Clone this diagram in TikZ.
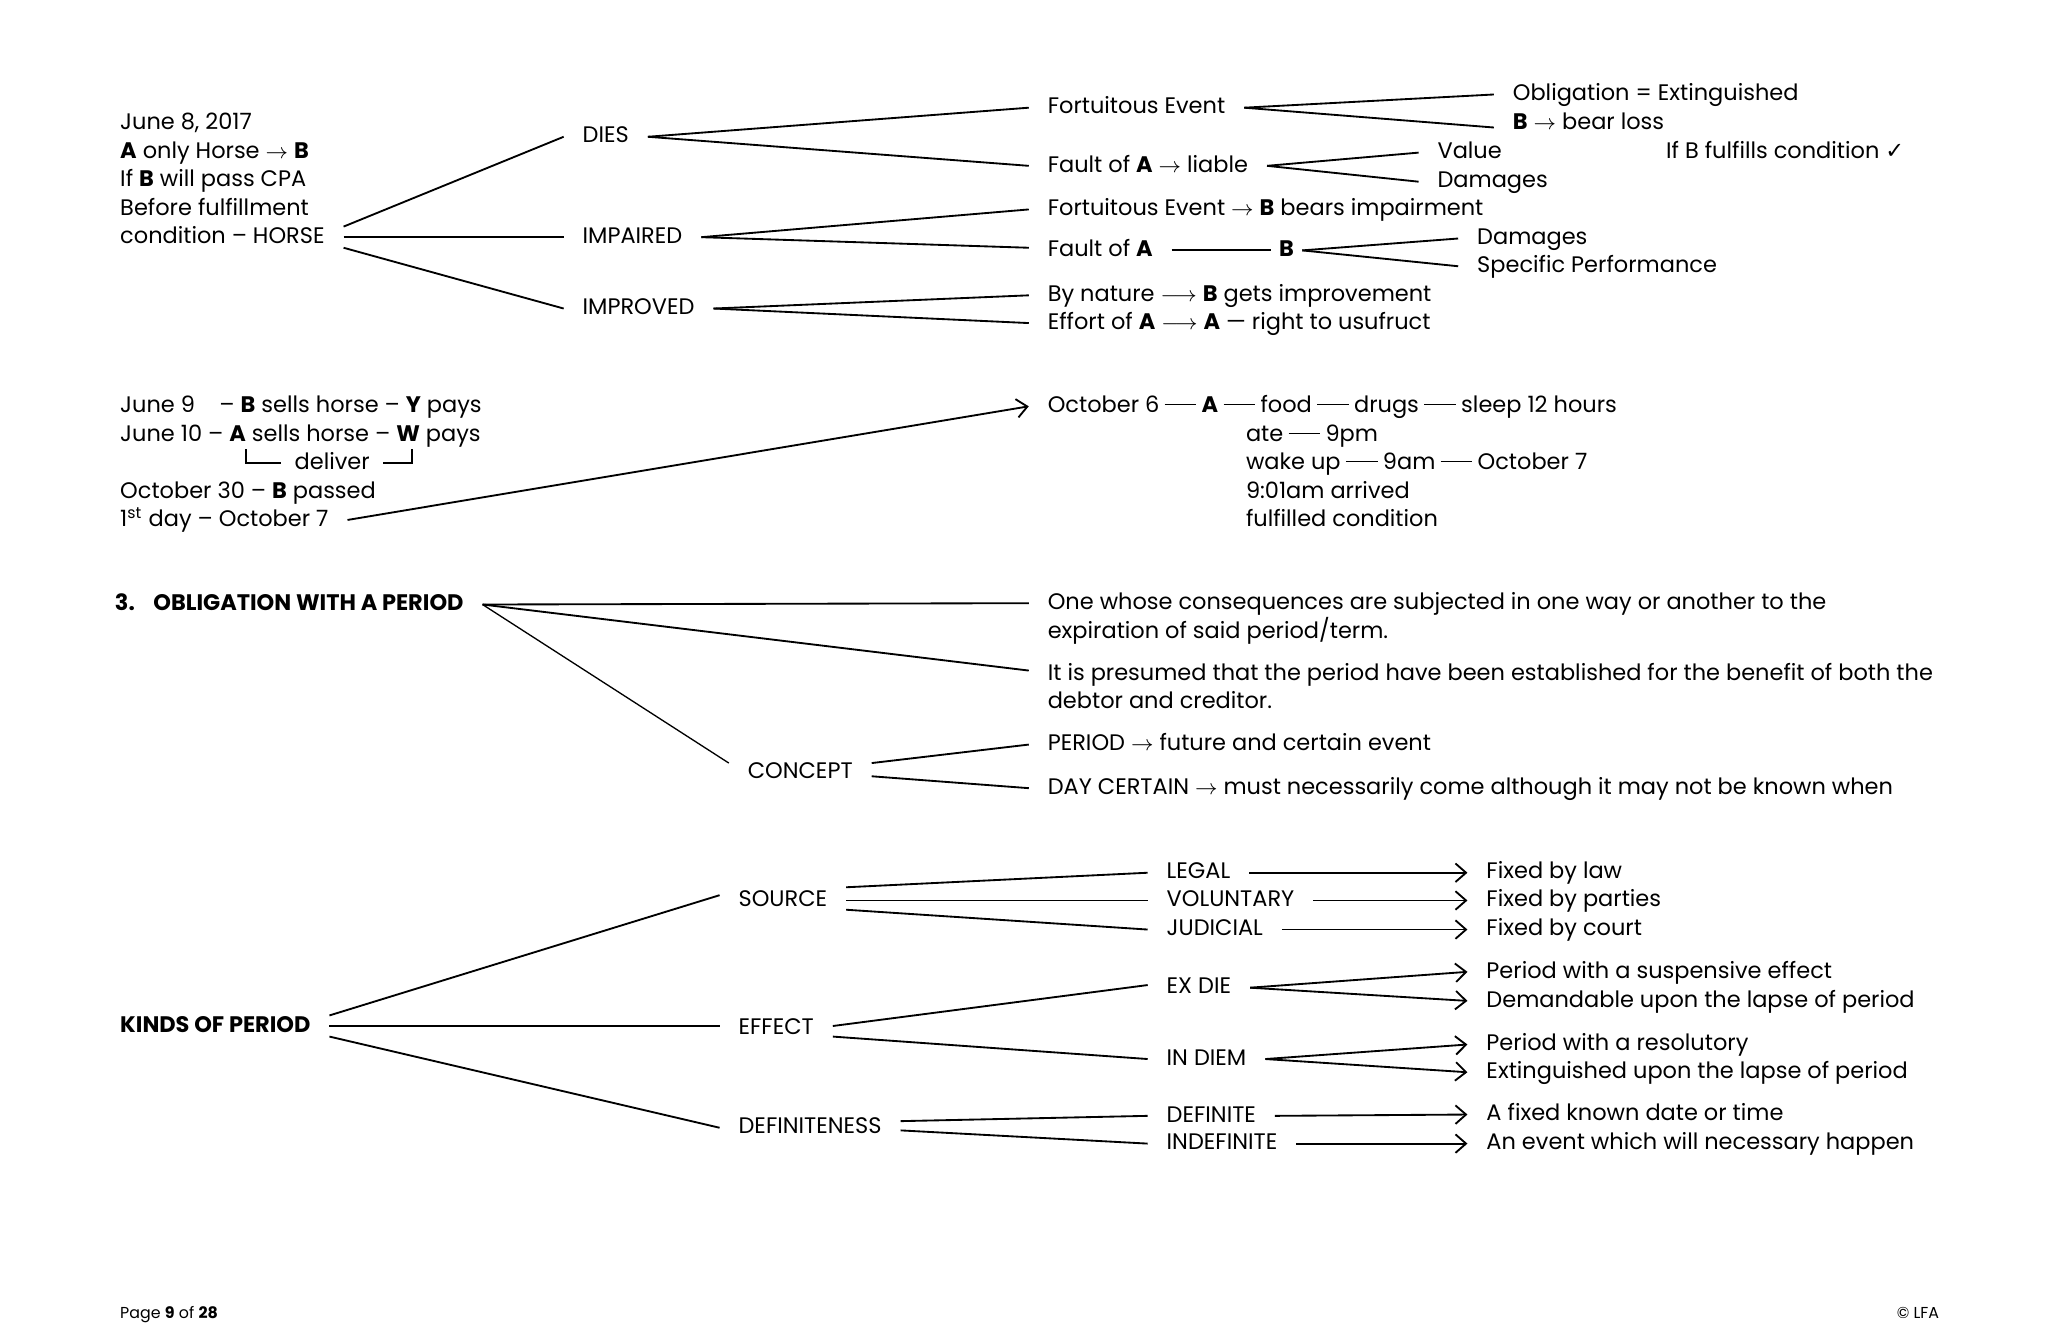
\documentclass[tikz,border=0pt]{standalone}
\usepackage{fontspec}
\setmainfont{Poppins}
\newfontfamily\dejavu{DejaVu Sans}
\usetikzlibrary{arrows.meta}
\newcommand{\ld}{\hspace{2pt}\rule[2.7pt]{12pt}{0.55pt}\hspace{2pt}}
\begin{document}
\begin{tikzpicture}[x=0.5pt,y=-0.5pt,
  txt/.style={anchor=text,yshift=-2.6pt,inner xsep=7pt,inner ysep=1pt,text height=6.2pt,text depth=1.5pt,font=\fontsize{8.5}{10}\selectfont},
  conn/.style={line width=0.7pt},
  thinconn/.style={line width=0.5pt},
  arr/.style={line width=0.7pt,-{Straight Barb[length=4pt,width=7pt,line width=0.7pt]}}]
\useasboundingbox (0,0) rectangle (1550,1013.6);
% ---------- top section ----------
\node[txt] (l1) at (91,93) {June 8, 2017};
\node[txt] (l2) at (91,115) {\textbf{A} only Horse $\rightarrow$ \textbf{B}};
\node[txt] (l3) at (91,136) {If \textbf{B} will pass CPA};
\node[txt] (l4) at (91,158) {Before fulfillment};
\node[txt] (horse) at (91,179) {condition – HORSE};
\node[txt] (dies) at (441,103) {DIES};
\node[txt] (imp) at (441,179) {IMPAIRED};
\node[txt] (impr) at (441,233) {IMPROVED};
\node[txt] (fe) at (793,81) {Fortuitous Event};
\node[txt] (fa) at (793,125) {Fault of \textbf{A} $\rightarrow$ liable};
\node[txt] (obl) at (1145,71) {Obligation = Extinguished};
\node[txt] (bl) at (1145,93) {\textbf{B} $\rightarrow$ bear loss};
\node[txt] (val) at (1088,115) {Value};
\node[txt] (dam1) at (1088,137) {Damages};
\node[txt] (iff) at (1261,115) {If B fulfills condition {\dejavu\bfseries ✓}};
\node[txt] (fe2) at (793,158) {Fortuitous Event $\rightarrow$ \textbf{B} bears impairment};
\node[txt] (fa2) at (793,189) {Fault of \textbf{A}};
\node[txt,inner xsep=3pt] (bB) at (968,189) {\textbf{B}};
\node[txt] (dam2) at (1118,180) {Damages};
\node[txt] (sp) at (1118,201) {Specific Performance};
\node[txt] (bn) at (793,223) {By nature $\longrightarrow$ \textbf{B} gets improvement};
\node[txt] (eo) at (793,244) {Effort of \textbf{A} $\longrightarrow$ \textbf{A} — right to usufruct};
\draw[conn] ([yshift=4pt]horse.east) -- (dies.west);
\draw[conn] (horse.east) -- (imp.west);
\draw[conn] ([yshift=-4pt]horse.east) -- (impr.west);
\draw[conn] (dies.east) -- (fe.west);
\draw[conn] (dies.east) -- (fa.west);
\draw[conn] (fe.east) -- (obl.west);
\draw[conn] (fe.east) -- ([yshift=-1.5pt]bl.west);
\draw[conn] (fa.east) -- (val.west);
\draw[conn] (fa.east) -- (dam1.west);
\draw[conn] (imp.east) -- (fe2.west);
\draw[conn] (imp.east) -- ([yshift=1pt]fa2.west);
\draw[conn] (fa2.east) -- (bB.west);
\draw[conn] (bB.east) -- (dam2.west);
\draw[conn] (bB.east) -- (sp.west);
\draw[conn] (impr.east) -- (bn.west);
\draw[conn] (impr.east) -- (eo.west);
% ---------- middle section ----------
\node[txt] (m1) at (91,307) {June 9\hspace{7pt} – \textbf{B} sells horse – \textbf{Y} pays};
\node[txt] (m2) at (91,329) {June 10 – \textbf{A} sells horse – \textbf{W} pays};
\node[txt,inner xsep=5pt] (deliver) at (223,350) {deliver};
\coordinate (brl) at (186,340);
\coordinate (brr) at (312,340);
\draw[conn] (brl) |- (deliver.west);
\draw[conn] (deliver.east) -| (brr);
\node[txt] (m3) at (91,372) {October 30 – \textbf{B} passed};
\node[txt] (m4) at (91,393) {1\textsuperscript{st} day – October 7};
\node[txt] (oc6) at (793,307) {October 6\ld\textbf{A}\ld food\ld drugs\ld sleep 12 hours};
\node[txt] (o2) at (943,329) {ate\ld 9pm};
\node[txt] (o3) at (943,350) {wake up\ld 9am\ld October 7};
\node[txt] (o4) at (943,372) {9:01am arrived};
\node[txt] (o5) at (943,393) {fulfilled condition};
\draw[arr] (m4.east) -- (oc6.west);
% ---------- obligation with a period ----------
\node[txt] (ob3) at (87,457) {\textbf{3.\hspace{7pt}OBLIGATION WITH A PERIOD}};
\node[txt] (t1) at (793,456) {One whose consequences are subjected in one way or another to the};
\node[txt] (t1b) at (793,478) {expiration of said period/term.};
\node[txt] (t2) at (793,510) {It is presumed that the period have been established for the benefit of both the};
\node[txt] (t2b) at (793,531) {debtor and creditor.};
\node[txt] (concept) at (566,584) {CONCEPT};
\node[txt] (c1) at (793,563) {PERIOD $\rightarrow$ future and certain event};
\node[txt] (c2) at (793,596) {DAY CERTAIN $\rightarrow$ must necessarily come although it may not be known when};
\draw[conn] (ob3.east) -- (t1.west);
\draw[conn] (ob3.east) -- ([yshift=1.5pt]t2.west);
\draw[thinconn] (ob3.east) -- ([yshift=3.5pt]concept.west);
\draw[conn] ([yshift=3.5pt]concept.east) -- (c1.west);
\draw[conn] ([yshift=-1.5pt]concept.east) -- (c2.west);
% ---------- kinds of period ----------
\node[txt] (kp) at (91,776) {\textbf{KINDS OF PERIOD}};
\node[txt] (src) at (559,681) {SOURCE};
\node[txt] (eff) at (559,778) {EFFECT};
\node[txt] (def) at (559,853) {DEFINITENESS};
\draw[conn] ([yshift=4pt]kp.east) -- ([yshift=2pt]src.west);
\draw[conn] (kp.east) -- ([yshift=1pt]eff.west);
\draw[conn] ([yshift=-4pt]kp.east) -- (def.west);
\node[txt] (legal) at (883,660) {LEGAL};
\node[txt] (vol) at (883,681) {VOLUNTARY};
\node[txt] (jud) at (883,703) {JUDICIAL};
\node[txt] (fl) at (1125,660) {Fixed by law};
\node[txt] (fp) at (1125,681) {Fixed by parties};
\node[txt] (fc) at (1125,703) {Fixed by court};
\draw[conn] ([yshift=5pt]src.east) -- (legal.west);
\draw[conn] (src.east) -- (vol.west);
\draw[conn] ([yshift=-3.5pt]src.east) -- (jud.west);
\draw[arr] (legal.east) -- (fl.west);
\draw[arr] (vol.east) -- (fp.west);
\draw[arr] (jud.east) -- (fc.west);
\node[txt] (exdie) at (883,747) {EX DIE};
\node[txt] (indiem) at (883,801) {IN DIEM};
\node[txt] (e1) at (1125,735) {Period with a suspensive effect};
\node[txt] (e2) at (1125,757) {Demandable upon the lapse of period};
\node[txt] (i1) at (1125,790) {Period with a resolutory};
\node[txt] (i2) at (1125,811) {Extinguished upon the lapse of period};
\draw[conn] ([yshift=1pt]eff.east) -- ([yshift=1pt]exdie.west);
\draw[conn] ([yshift=-3pt]eff.east) -- (indiem.west);
\draw[arr] (exdie.east) -- (e1.west);
\draw[arr] (exdie.east) -- (e2.west);
\draw[arr] (indiem.east) -- (i1.west);
\draw[arr] (indiem.east) -- (i2.west);
\node[txt] (dfn) at (883,844) {DEFINITE};
\node[txt] (indf) at (883,865) {INDEFINITE};
\node[txt] (a1) at (1125,843) {A fixed known date or time};
\node[txt] (a2) at (1125,865) {An event which will necessary happen};
\draw[conn] ([yshift=2.5pt]def.east) -- (dfn.west);
\draw[conn] ([yshift=-1pt]def.east) -- (indf.west);
\draw[arr] (dfn.east) -- (a1.west);
\draw[arr] (indf.east) -- (a2.west);
% ---------- footer ----------
\node[txt,font=\fontsize{6}{7}\selectfont] (pg) at (91,993) {Page \textbf{9} of \textbf{28}};
\node[anchor=east,inner sep=0pt,yshift=-0.5pt,font=\fontsize{6}{7}\selectfont] (lfa) at (1468,993) {© LFA};
\end{tikzpicture}
\end{document}
